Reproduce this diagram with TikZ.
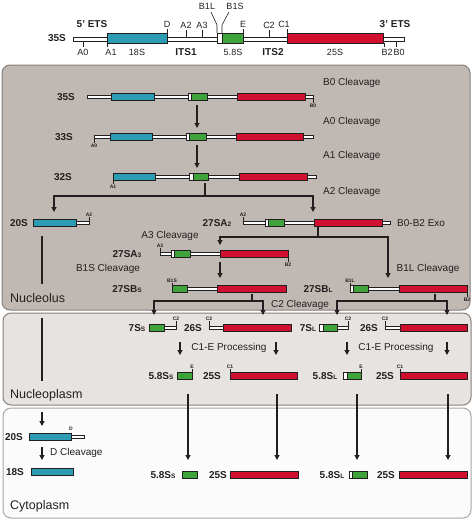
\documentclass[tikz,border=0pt]{standalone}
\usepackage{fontspec}
\setmainfont{Liberation Sans}
\usetikzlibrary{arrows.meta}
\definecolor{ink}{HTML}{231F20}
\definecolor{teal18}{HTML}{2C9CB4}
\definecolor{green58}{HTML}{3DA33A}
\definecolor{red25}{HTML}{D0102E}
\definecolor{nucleolusfill}{HTML}{C0B8B3}
\definecolor{nucleoplasmfill}{HTML}{E7E3E1}
\definecolor{cytoplasmfill}{HTML}{FBFBFB}
\definecolor{panelborder}{HTML}{86807C}
\tikzset{
  flow/.style={
    -{Triangle[length=5pt,width=5pt]},
    draw=ink,
    line width=1.1pt
  },
  branch/.style={
    draw=ink,
    line width=1.1pt
  },
  compartment/.style={
    draw=panelborder,
    line width=1pt,
    rounded corners=8pt
  },
  spacer/.style={draw=ink, fill=white, line width=0.5pt},
  r18/.style={draw=ink, fill=teal18, line width=0.5pt},
  r58/.style={draw=ink, fill=green58, line width=0.5pt},
  r25/.style={draw=ink, fill=red25, line width=0.5pt},
  rw/.style={draw=ink, fill=white, line width=0.5pt},
  site tick/.style={draw=ink, line width=0.6pt},
  site/.style={
    font=\bfseries\fontsize{5}{5.5}\selectfont,
    text=ink,
    inner sep=0.6pt
  },
  map label/.style={
    font=\fontsize{9}{10}\selectfont,
    text=ink,
    inner sep=0pt
  },
  region label/.style={
    font=\bfseries\fontsize{10}{12}\selectfont,
    text=ink,
    inner sep=0pt
  },
  rowlabel/.style={
    font=\bfseries\fontsize{10}{12}\selectfont,
    text=ink,
    inner sep=0pt
  },
  step label/.style={
    font=\fontsize{10}{12}\selectfont,
    text=ink,
    inner sep=0pt
  },
  compartment label/.style={
    anchor=west,
    font=\fontsize{12.5}{14}\selectfont,
    text=ink,
    inner sep=0pt
  }
}
% x0 x1 y
\newcommand{\rspacer}[3]{\draw[spacer] (#1,#3-1.7) rectangle (#2,#3+1.7);}
% style x0 x1 y
\newcommand{\rseg}[4]{\draw[#1] (#2,#4-3.7) rectangle (#3,#4+3.7);}
\newcommand{\subsz}[1]{{\fontsize{6.5}{7}\selectfont #1}}

\begin{document}
\begin{tikzpicture}[x=1pt,y=-1pt]
  \useasboundingbox (0,0) rectangle (474,522);

  % compartments
  \draw[compartment,fill=nucleolusfill] (2,65) rectangle (470,310);
  \draw[compartment,fill=nucleoplasmfill] (3,313) rectangle (471,405);
  \draw[compartment,fill=cytoplasmfill,draw=gray!70] (3,408) rectangle (471,518);

  % ---- 35S precursor map ----
  \node[rowlabel] (map-35s) at (57,38) {35S};
  \node[region label] (map-5ets) at (92,24) {5' ETS};
  \node[region label] (map-3ets) at (395,24) {3' ETS};
  \draw[spacer] (73,37) rectangle (404,41);
  \draw[r18] (107,33) rectangle (167,43);
  \draw[rw] (217,33) rectangle (222,43);
  \draw[r58] (222,33) rectangle (243,43);
  \draw[r25] (287,33) rectangle (383,43);
  \draw[site tick] (167,33) -- (167,29) node[map label,above=1pt] (map-d) {D};
  \draw[site tick] (186,37) -- (186,30) node[map label,above=1pt] (map-a2) {A2};
  \draw[site tick] (202,37) -- (202,30) node[map label,above=1pt] (map-a3) {A3};
  \draw[site tick] (243,33) -- (243,29) node[map label,above=1pt] (map-e) {E};
  \draw[site tick] (269,37) -- (269,30) node[map label,above=1pt] (map-c2) {C2};
  \draw[site tick] (287,33) -- (287,29);
  \node[map label] (map-c1) at (284,24) {C1};
  \draw[site tick] (217,33) -- (217,25) -- (211,12);
  \draw[site tick] (222,33) -- (222,25) -- (229,12);
  \node[map label] (map-b1l) at (207,6) {B1L};
  \node[map label] (map-b1s) at (235,6) {B1S};
  \draw[site tick] (83,41) -- (83,47);
  \draw[site tick] (107,43) -- (107,47);
  \draw[site tick] (384,43) -- (384,47);
  \draw[site tick] (396,41) -- (396,47);
  \node[map label] (map-a0) at (83,52) {A0};
  \node[map label] (map-a1) at (111,52) {A1};
  \node[map label] (map-18s) at (137,52) {18S};
  \node[region label] (map-its1) at (186,52) {ITS1};
  \node[map label] (map-58s) at (233,52) {5.8S};
  \node[region label] (map-its2) at (273,52) {ITS2};
  \node[map label] (map-25s) at (335,52) {25S};
  \node[map label] (map-b2) at (387,52) {B2};
  \node[map label] (map-b0) at (399,52) {B0};

  % ---- nucleolus ----
  \node[rowlabel] (lbl-35s) at (66,97) {35S};
  \rspacer{87}{313}{97}
  \rseg{r18}{111}{154}{97}
  \rseg{rw}{188}{191}{97}
  \rseg{r58}{191}{207}{97}
  \rseg{r25}{237}{305}{97}
  \draw[site tick] (313,97) -- (313,103) node[site,below] {B0};
  \node[step label,anchor=west] (step-b0) at (323,83) {B0 Cleavage};
  \coordinate (b0-from) at (197,105);
  \coordinate (b0-to) at (197,128);
  \draw[flow] (b0-from) -- (b0-to);

  \node[step label,anchor=west] (step-a0) at (323,122) {A0 Cleavage};
  \node[rowlabel] (lbl-33s) at (64,137) {33S};
  \rspacer{94}{313}{137}
  \rseg{r18}{110}{152}{137}
  \rseg{rw}{186}{189}{137}
  \rseg{r58}{189}{206}{137}
  \rseg{r25}{236}{303}{137}
  \draw[site tick] (94,137) -- (94,143) node[site,below] {A0};
  \coordinate (a0-from) at (197,145);
  \coordinate (a0-to) at (197,168);
  \draw[flow] (a0-from) -- (a0-to);

  \node[step label,anchor=west] (step-a1) at (323,156) {A1 Cleavage};
  \node[rowlabel] (lbl-32s) at (63,177) {32S};
  \rspacer{155}{316}{177}
  \rseg{r18}{113}{155}{177}
  \rseg{rw}{189}{193}{177}
  \rseg{r58}{193}{208}{177}
  \rseg{r25}{239}{307}{177}
  \draw[site tick] (113,180.7) -- (113,184) node[site,below] {A1};

  \node[step label,anchor=west] (step-a2) at (323,192) {A2 Cleavage};
  \coordinate (a2-from) at (205,183);
  \coordinate (a2-split) at (205,196);
  \draw[branch] (a2-from) -- (a2-split);
  \draw[flow] (a2-split) -| (54,212);
  \draw[flow] (a2-split) -| (313,212);

  \node[rowlabel] (lbl-20s) at (19,223) {20S};
  \rseg{r18}{33}{76}{223}
  \rspacer{76}{89}{223}
  \draw[site tick] (89,223) -- (89,217) node[site,above] {A2};

  \node[rowlabel] (lbl-27sa2) at (217,223) {27SA\subsz{2}};
  \rspacer{243}{390}{223}
  \rseg{rw}{265}{268}{223}
  \rseg{r58}{268}{284}{223}
  \rseg{r25}{314}{382}{223}
  \draw[site tick] (243,223) -- (243,217) node[site,above] {A2};
  \node[step label,anchor=west] (step-exo) at (397,223) {B0-B2 Exo};

  \node[step label] (step-a3) at (170,236) {A3 Cleavage};
  \coordinate (a3-from) at (318,227);
  \coordinate (a3-split) at (318,237);
  \draw[branch] (a3-from) -- (a3-split);
  \draw[flow] (a3-split) -| (220,245);
  \draw[flow] (a3-split) -| (388,278);

  \node[rowlabel] (lbl-27sa3) at (127,254) {27SA\subsz{3}};
  \rspacer{160}{220}{254}
  \rseg{rw}{171}{174}{254}
  \rseg{r58}{174}{190}{254}
  \rseg{r25}{220}{288}{254}
  \draw[site tick] (160,254) -- (160,248) node[site,above] {A3};
  \draw[site tick] (288,257.7) -- (288,262) node[site,below] {B2};

  \node[step label] (step-b1s) at (108,269) {B1S Cleavage};
  \node[step label] (step-b1l) at (428,269) {B1L Cleavage};
  \coordinate (b1s-from) at (220,262);
  \coordinate (b1s-to) at (220,278);
  \draw[flow] (b1s-from) -- (b1s-to);

  \node[rowlabel] (lbl-27sbs) at (127,289) {27SB\subsz{S}};
  \rseg{r58}{172}{187}{289}
  \rspacer{187}{217}{289}
  \rseg{r25}{217}{286}{289}
  \draw[site tick] (172,285.3) -- (172,283) node[site,above] {B1S};

  \node[rowlabel] (lbl-27sbl) at (318,289) {27SB\subsz{L}};
  \rseg{rw}{350}{353}{289}
  \rseg{r58}{353}{368}{289}
  \rspacer{368}{399}{289}
  \rseg{r25}{399}{467}{289}
  \draw[site tick] (350,285.3) -- (350,283) node[site,above] {B1L};
  \draw[site tick] (467,292.7) -- (467,297) node[site,below] {B2};

  \coordinate (nucleolus-top) at (42,236);
  \coordinate (nucleolus-bottom) at (42,284);
  \draw[branch] (nucleolus-top) -- (nucleolus-bottom);
  \node[compartment label] (nucleolus) at (10,298) {Nucleolus};

  % C2 cleavage
  \node[step label] (step-c2) at (300,305) {C2 Cleavage};
  \coordinate (c2s-from) at (252,294);
  \coordinate (c2s-split) at (252,301);
  \draw[branch] (c2s-from) -- (c2s-split);
  \draw[flow] (c2s-split) -| (154,315);
  \draw[flow] (c2s-split) -| (263,315);
  \coordinate (c2l-from) at (435,294);
  \coordinate (c2l-split) at (435,301);
  \draw[branch] (c2l-from) -- (c2l-split);
  \draw[flow] (c2l-split) -| (337,315);
  \draw[flow] (c2l-split) -| (447,315);

  % ---- nucleoplasm ----
  \node[rowlabel] (lbl-7ss) at (137,328) {7S\subsz{S}};
  \rseg{r58}{149}{164}{328}
  \rspacer{164}{176}{328}
  \draw[site tick] (176,328) -- (176,321) node[site,above] {C2};
  \node[rowlabel] (lbl-26s-s) at (193,328) {26S};
  \rspacer{209}{223}{328}
  \rseg{r25}{223}{291}{328}
  \draw[site tick] (209,328) -- (209,321) node[site,above] {C2};
  \node[rowlabel] (lbl-7sl) at (308,328) {7S\subsz{L}};
  \rseg{rw}{319}{323}{328}
  \rseg{r58}{323}{337}{328}
  \rspacer{337}{348}{328}
  \draw[site tick] (348,328) -- (348,321) node[site,above] {C2};
  \node[rowlabel] (lbl-26s-l) at (369,328) {26S};
  \rspacer{385}{400}{328}
  \rseg{r25}{400}{467}{328}
  \draw[site tick] (385,328) -- (385,321) node[site,above] {C2};

  \node[step label] (step-c1e-s) at (229,348) {C1-E Processing};
  \node[step label] (step-c1e-l) at (396,348) {C1-E Processing};
  \foreach \px in {180,276,347,447}
    \draw[flow] (\px,342) -- (\px,355);

  \node[rowlabel] (lbl-58ss) at (161,376) {5.8S\subsz{S}};
  \rseg{r58}{177}{192}{376}
  \draw[site tick] (192,372.3) -- (192,369) node[site,above] {E};
  \node[rowlabel] (lbl-25s-s) at (212,376) {25S};
  \rseg{r25}{230}{297}{376}
  \draw[site tick] (230,372.3) -- (230,369) node[site,above] {C1};
  \node[rowlabel] (lbl-58sl) at (325,376) {5.8S\subsz{L}};
  \rseg{rw}{343}{347}{376}
  \rseg{r58}{347}{361}{376}
  \draw[site tick] (361,372.3) -- (361,369) node[site,above] {E};
  \node[rowlabel] (lbl-25s-l) at (385,376) {25S};
  \rseg{r25}{400}{467}{376}
  \draw[site tick] (400,372.3) -- (400,369) node[site,above] {C1};

  \coordinate (nucleoplasm-top) at (42,318);
  \coordinate (nucleoplasm-bottom) at (42,381);
  \draw[branch] (nucleoplasm-top) -- (nucleoplasm-bottom);
  \node[compartment label] (nucleoplasm) at (10,395) {Nucleoplasm};

  % export
  \foreach \px in {188,277,357,448}
    \draw[flow] (\px,394) -- (\px,460);

  % ---- cytoplasm ----
  \node[rowlabel] (cyto-58ss) at (163,475) {5.8S\subsz{S}};
  \rseg{r58}{182}{197}{475}
  \node[rowlabel] (cyto-25s-s) at (218,475) {25S};
  \rseg{r25}{230}{298}{475}
  \node[rowlabel] (cyto-58sl) at (332,475) {5.8S\subsz{L}};
  \rseg{rw}{349}{352}{475}
  \rseg{r58}{352}{367}{475}
  \node[rowlabel] (cyto-25s-l) at (386,475) {25S};
  \rseg{r25}{399}{467}{475}

  \coordinate (export-from) at (42,412);
  \coordinate (export-to) at (42,426);
  \draw[flow] (export-from) -- (export-to);
  \node[rowlabel] (cyto-20s) at (14,437) {20S};
  \rseg{r18}{29}{71}{437}
  \rspacer{71}{84}{437}
  \node[site] (cyto-d) at (71,429) {D};
  \coordinate (d-from) at (42,447);
  \coordinate (d-to) at (42,460);
  \draw[flow] (d-from) -- (d-to);
  \node[step label,anchor=west] (step-d) at (50,453) {D Cleavage};
  \node[rowlabel] (cyto-18s) at (15,472) {18S};
  \rseg{r18}{31}{73}{472}
  \node[compartment label] (cytoplasm) at (10,506) {Cytoplasm};
\end{tikzpicture}
\end{document}
